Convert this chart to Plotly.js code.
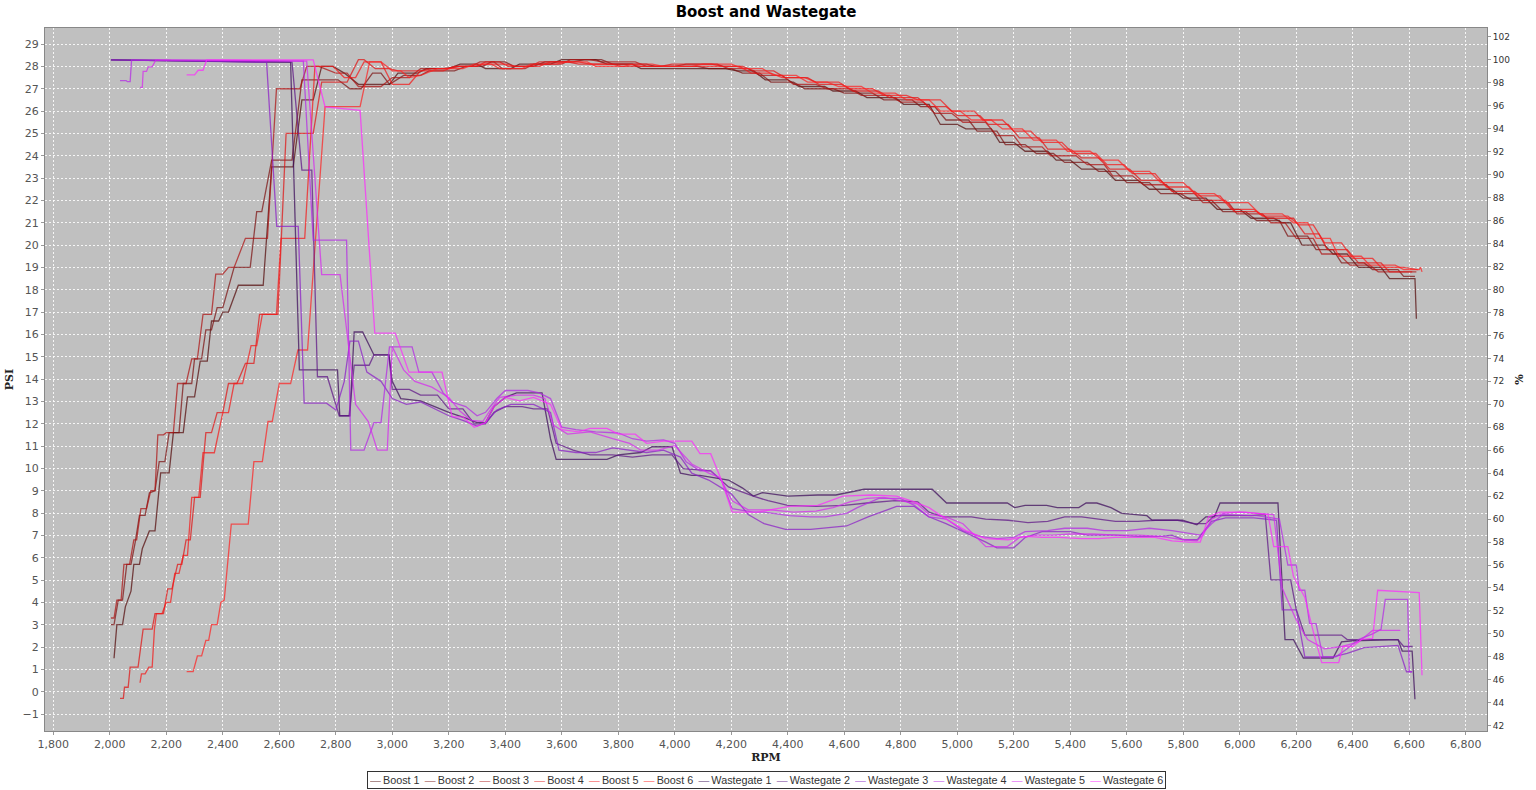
<!DOCTYPE html>
<html>
<head>
<meta charset="utf-8">
<script src="https://cdn.plot.ly/plotly-3.0.1.min.js"></script>
<style>html,body{margin:0;padding:0;background:#fff;}#chart{width:1536px;height:790px;}</style>
</head>
<body>
<div id="chart"></div>
<script>
// Series data: [RPM, value] pairs. Boost in PSI (left axis), Wastegate in % (right axis)
const seriesNames = ["Boost 1","Boost 2","Boost 3","Boost 4","Boost 5","Boost 6",
  "Wastegate 1","Wastegate 2","Wastegate 3","Wastegate 4","Wastegate 5","Wastegate 6"];

const boost1 = [[2015,1.5],[2025,3.0],[2045,3.0],[2055,3.8],[2075,4.5],[2085,5.7],[2105,5.7],[2115,6.4],[2140,7.2],[2160,7.2],[2180,9.8],[2210,9.8],[2225,11.6],[2260,11.6],[2275,13.2],[2300,13.2],[2320,14.8],[2345,14.8],[2360,16.6],[2385,16.6],[2400,17.0],[2420,17.0],[2455,18.2],[2543,18.2],[2573,23.5],[2649,23.5],[2680,26.5],[2720,26.5],[2750,28.0],[2790,28.0],[2830,27.7],[2880,27.2],[2990,27.2],[3020,27.7],[3090,27.7],[3120,27.9],[3200,27.9],[3240,28.1],[3300,28.1],[3330,27.9],[3420,27.9],[3450,28.1],[3560,28.1],[3600,28.3],[3720,28.3],[3760,28.1],[3850,28.1],[3880,27.9],[4180,27.9],[4220,27.8],[4280,27.8],[4320,27.4],[4400,27.4],[4440,27.1],[4530,27.1],[4560,26.9],[4640,26.9],[4680,26.6],[4780,26.6],[4810,26.3],[4900,26.3],[4940,25.4],[5000,25.4],[5030,25.2],[5120,25.2],[5150,24.6],[5200,24.6],[5240,24.2],[5320,24.2],[5350,23.8],[5400,23.8],[5440,23.4],[5520,23.4],[5560,22.9],[5640,22.9],[5680,22.5],[5760,22.5],[5800,22.1],[5880,22.1],[5920,21.6],[6000,21.6],[6040,21.2],[6120,21.2],[6150,21.0],[6180,21.0],[6220,20.0],[6300,20.0],[6330,19.6],[6380,19.6],[6420,19.0],[6500,19.0],[6530,18.5],[6620,18.5],[6625,16.7]];

const boost2 = [[2004,3.0],[2015,3.0],[2030,4.1],[2045,4.1],[2060,5.7],[2075,5.7],[2090,6.7],[2105,7.9],[2125,7.9],[2140,8.9],[2160,9.0],[2175,10.3],[2195,10.3],[2210,11.6],[2245,11.6],[2260,13.8],[2290,13.8],[2300,14.9],[2325,14.9],[2340,16.2],[2360,16.2],[2380,17.2],[2400,17.2],[2440,19.0],[2497,19.0],[2520,21.5],[2538,21.5],[2573,23.8],[2645,23.8],[2680,27.4],[2808,27.4],[2850,27.0],[2890,27.0],[2930,27.7],[2960,27.7],[2990,27.2],[3040,27.6],[3100,27.6],[3130,27.8],[3220,27.8],[3260,28.0],[3320,28.0],[3350,28.2],[3400,28.2],[3430,28.0],[3500,28.0],[3540,28.2],[3640,28.2],[3680,28.3],[3740,28.3],[3780,28.1],[3900,28.1],[3930,28.0],[4080,28.0],[4120,27.9],[4200,27.9],[4240,27.7],[4300,27.7],[4340,27.3],[4420,27.3],[4460,27.0],[4560,27.0],[4600,26.8],[4700,26.8],[4740,26.5],[4840,26.5],[4870,26.2],[4920,26.2],[4960,25.6],[5040,25.6],[5070,25.1],[5140,25.1],[5170,24.5],[5240,24.5],[5280,24.1],[5340,24.1],[5380,23.7],[5460,23.7],[5500,23.3],[5560,23.3],[5600,22.8],[5680,22.8],[5720,22.3],[5790,22.3],[5830,22.0],[5900,22.0],[5940,21.5],[6020,21.5],[6060,21.1],[6140,21.1],[6170,20.4],[6240,20.4],[6270,19.8],[6330,19.8],[6360,19.2],[6440,19.2],[6470,18.9],[6560,18.9],[6580,18.6],[6620,18.6]];

const boost3 = [[2004,3.3],[2015,3.3],[2025,4.1],[2040,4.1],[2050,5.7],[2070,5.7],[2085,6.8],[2095,6.8],[2110,8.2],[2130,8.2],[2145,9.0],[2160,9.0],[2170,11.5],[2190,11.5],[2200,11.6],[2225,11.6],[2240,13.8],[2270,13.8],[2290,14.9],[2310,14.9],[2330,16.9],[2360,16.9],[2375,18.7],[2400,18.7],[2420,19.0],[2440,19.0],[2480,20.3],[2558,20.3],[2590,27.0],[2673,27.0],[2697,28.0],[2740,28.0],[2800,27.7],[2840,27.7],[2880,27.1],[2960,27.1],[3000,27.5],[3060,27.5],[3100,27.9],[3180,27.9],[3230,28.0],[3280,28.0],[3310,28.2],[3360,28.2],[3390,27.9],[3470,27.9],[3500,28.1],[3600,28.1],[3630,28.3],[3700,28.3],[3740,28.2],[3860,28.2],[3900,28.0],[4000,28.0],[4040,28.1],[4150,28.1],[4190,27.9],[4260,27.9],[4300,27.6],[4380,27.6],[4420,27.2],[4500,27.2],[4540,27.0],[4620,27.0],[4660,26.7],[4760,26.7],[4800,26.4],[4880,26.4],[4920,25.9],[4980,25.9],[5020,25.5],[5100,25.5],[5140,24.9],[5200,24.9],[5230,24.4],[5300,24.4],[5330,24.0],[5420,24.0],[5460,23.6],[5520,23.6],[5550,23.1],[5620,23.1],[5660,22.7],[5740,22.7],[5770,22.3],[5840,22.3],[5870,21.9],[5960,21.9],[5990,21.4],[6080,21.4],[6110,21.0],[6160,21.0],[6200,20.3],[6260,20.3],[6290,19.6],[6350,19.6],[6390,19.1],[6460,19.1],[6490,18.8],[6625,18.8]];

const boost4 = [[2036,-0.3],[2048,-0.3],[2052,0.2],[2065,0.2],[2072,1.1],[2100,1.1],[2118,2.8],[2150,2.8],[2160,3.5],[2190,3.5],[2205,4.6],[2220,4.6],[2240,5.7],[2255,5.7],[2270,6.8],[2285,6.8],[2300,8.7],[2320,8.7],[2340,11.6],[2360,11.6],[2380,12.5],[2400,12.5],[2420,13.8],[2450,13.8],[2480,14.7],[2510,14.7],[2530,16.9],[2595,16.9],[2624,25.0],[2720,25.0],[2750,27.3],[2840,27.3],[2880,28.3],[2900,28.3],[2940,27.9],[2990,27.9],[3020,27.8],[3100,27.8],[3140,27.9],[3200,27.9],[3240,28.0],[3300,28.0],[3330,28.2],[3380,28.2],[3410,28.0],[3490,28.0],[3520,28.2],[3620,28.2],[3660,28.1],[3780,28.1],[3810,28.0],[3950,28.0],[3990,28.1],[4130,28.1],[4170,28.0],[4240,28.0],[4280,27.8],[4350,27.8],[4390,27.5],[4470,27.5],[4510,27.2],[4590,27.2],[4630,26.9],[4720,26.9],[4760,26.6],[4860,26.6],[4900,26.2],[4960,26.2],[5000,25.8],[5080,25.8],[5110,25.4],[5180,25.4],[5220,24.8],[5290,24.8],[5320,24.3],[5400,24.3],[5440,23.9],[5500,23.9],[5540,23.4],[5610,23.4],[5650,22.9],[5720,22.9],[5760,22.4],[5840,22.4],[5880,22.0],[5950,22.0],[5980,21.5],[6060,21.5],[6100,21.2],[6190,21.2],[6230,20.5],[6280,20.5],[6310,19.8],[6380,19.8],[6420,19.2],[6500,19.2],[6530,18.8],[6610,18.8]];

const boost5 = [[2107,0.4],[2112,0.8],[2125,0.8],[2138,1.1],[2150,1.1],[2158,2.8],[2165,3.5],[2185,3.5],[2200,4.0],[2215,4.0],[2230,5.3],[2245,5.3],[2260,6.1],[2275,6.1],[2290,8.7],[2315,8.7],[2330,10.7],[2370,10.7],[2400,12.5],[2420,12.5],[2440,13.8],[2470,13.8],[2500,15.5],[2520,15.5],[2540,16.9],[2590,16.9],[2606,20.3],[2690,20.3],[2726,28.0],[2790,28.0],[2830,27.5],[2870,27.5],[2900,28.2],[2960,28.2],[3000,27.2],[3060,27.2],[3100,27.8],[3180,27.8],[3220,28.0],[3290,28.0],[3330,28.1],[3400,28.1],[3440,28.0],[3520,28.0],[3560,28.2],[3660,28.2],[3700,28.1],[3840,28.1],[3880,28.0],[4230,28.0],[4270,27.7],[4340,27.7],[4380,27.5],[4460,27.5],[4500,27.3],[4580,27.3],[4620,27.0],[4700,27.0],[4740,26.7],[4820,26.7],[4860,26.5],[4940,26.5],[4980,26.0],[5060,26.0],[5090,25.6],[5160,25.6],[5200,25.1],[5260,25.1],[5300,24.6],[5370,24.6],[5410,24.1],[5490,24.1],[5530,23.6],[5590,23.6],[5620,23.2],[5700,23.2],[5740,22.6],[5820,22.6],[5850,22.2],[5930,22.2],[5970,21.6],[6050,21.6],[6080,21.3],[6170,21.3],[6210,20.9],[6260,20.9],[6300,20.1],[6360,20.1],[6400,19.4],[6470,19.4],[6500,19.0],[6580,19.0],[6630,18.9]];

const boost6 = [[2272,0.9],[2295,0.9],[2310,1.6],[2325,1.6],[2340,2.3],[2350,2.3],[2360,3.0],[2380,3.0],[2393,4.0],[2405,4.1],[2430,7.5],[2490,7.5],[2510,10.3],[2540,10.3],[2560,12.1],[2575,12.1],[2600,13.8],[2640,13.8],[2666,15.3],[2700,15.3],[2762,26.2],[2886,26.2],[2920,28.2],[2960,28.2],[3000,27.8],[3030,27.8],[3060,27.5],[3100,27.6],[3160,27.9],[3250,27.9],[3290,28.1],[3350,28.1],[3380,27.9],[3460,27.9],[3490,28.1],[3580,28.1],[3620,28.2],[3690,28.2],[3720,28.0],[3820,28.0],[3850,28.1],[3920,28.1],[3960,28.0],[4060,28.0],[4100,28.1],[4200,28.1],[4240,27.9],[4310,27.9],[4350,27.6],[4430,27.6],[4470,27.3],[4540,27.3],[4580,27.1],[4660,27.1],[4700,26.8],[4780,26.8],[4820,26.5],[4900,26.5],[4940,26.0],[5010,26.0],[5050,25.6],[5120,25.6],[5160,25.2],[5230,25.2],[5270,24.7],[5350,24.7],[5390,24.2],[5470,24.2],[5510,23.8],[5570,23.8],[5610,23.3],[5680,23.3],[5720,22.8],[5800,22.8],[5840,22.3],[5910,22.3],[5950,21.9],[6030,21.9],[6070,21.4],[6150,21.4],[6190,21.0],[6240,21.0],[6270,20.3],[6320,20.3],[6350,19.5],[6430,19.5],[6460,19.1],[6550,19.1],[6580,18.9],[6635,18.9],[6640,19.0],[6645,18.8]];

const wastegate1 = [[2004,100.0],[2640,99.8],[2671,73.0],[2806,73.0],[2814,69.0],[2850,69.0],[2865,76.3],[2895,76.3],[2935,74.3],[2988,74.3],[3000,72.0],[3030,70.5],[3100,70.3],[3150,69.8],[3200,69.3],[3260,68.8],[3300,68.4],[3330,68.4],[3360,69.8],[3400,70.6],[3440,71.0],[3530,71.0],[3560,67.0],[3580,65.2],[3760,65.2],[3800,65.6],[3880,65.8],[3920,66.3],[3990,66.3],[4020,64.0],[4060,63.8],[4089,63.8],[4190,63.4],[4240,62.7],[4278,62.0],[4310,62.3],[4400,62.0],[4506,62.1],[4570,62.1],[4670,62.6],[4911,62.6],[4962,61.4],[5177,61.4],[5203,61.0],[5240,61.2],[5316,61.2],[5354,61.0],[5430,61.0],[5456,61.4],[5494,61.4],[5544,61.0],[5582,60.5],[5650,60.3],[5671,60.3],[5690,59.9],[5797,59.9],[5848,59.5],[5880,60.2],[5910,60.2],[5930,61.4],[6135,61.4],[6160,49.5],[6190,49.5],[6225,47.9],[6330,47.9],[6360,49.3],[6400,49.4],[6560,49.5],[6575,48.5],[6610,48.5],[6620,44.3]];

const wastegate2 = [[2004,100.0],[2645,99.8],[2680,90.4],[2715,90.4],[2735,72.4],[2770,72.4],[2812,69.0],[2847,69.0],[2865,73.4],[2918,73.4],[2935,74.3],[2988,74.3],[3000,71.3],[3060,71.3],[3100,70.8],[3160,70.8],[3200,69.6],[3250,69.6],[3290,68.3],[3330,68.3],[3360,69.3],[3400,69.8],[3460,69.8],[3500,69.6],[3550,69.6],[3580,66.6],[3640,66.0],[3700,65.6],[3780,65.6],[3850,65.4],[3920,65.6],[3990,65.6],[4030,64.4],[4127,64.2],[4190,62.8],[4278,62.0],[4330,61.6],[4400,61.2],[4500,61.1],[4600,61.2],[4680,61.4],[4780,61.6],[4860,61.5],[4900,60.6],[4950,60.2],[5050,60.2],[5100,60.0],[5180,59.9],[5250,59.7],[5320,59.8],[5380,60.2],[5440,60.2],[5500,60.0],[5560,59.8],[5640,59.8],[5700,59.9],[5780,59.9],[5840,59.6],[5880,59.6],[5910,60.3],[6040,60.3],[6090,60.4],[6110,54.7],[6180,54.7],[6200,52.1],[6230,49.9],[6360,49.9],[6380,49.5],[6560,49.5],[6580,48.9],[6612,48.9]];

const wastegate3 = [[2004,100.0],[2555,99.8],[2591,85.5],[2667,85.5],[2688,70.1],[2767,70.1],[2800,69.5],[2830,72.0],[2850,75.5],[2880,75.5],[2910,72.8],[2960,72.0],[3000,70.5],[3050,70.0],[3100,70.2],[3150,69.6],[3200,69.0],[3250,68.6],[3300,68.1],[3330,68.4],[3370,69.5],[3420,70.0],[3500,70.0],[3560,69.3],[3590,66.0],[3650,65.8],[3720,65.8],[3780,66.2],[3840,66.0],[3900,65.8],[3960,66.0],[4020,65.4],[4060,64.0],[4120,63.4],[4200,62.2],[4260,60.4],[4316,59.6],[4392,59.1],[4481,59.1],[4560,59.3],[4608,59.4],[4684,60.2],[4785,61.1],[4848,61.1],[4899,60.2],[4960,59.6],[5051,58.6],[5101,58.0],[5140,57.5],[5200,57.5],[5240,58.4],[5300,58.9],[5400,58.9],[5460,58.6],[5560,58.6],[5640,58.5],[5720,58.5],[5760,58.6],[5800,58.2],[5850,58.2],[5900,59.8],[5950,60.1],[6050,60.1],[6130,59.9],[6150,52.1],[6200,52.1],[6230,48.0],[6330,48.0],[6380,48.3],[6440,48.8],[6560,49.0],[6590,46.7],[6610,46.7]];

const wastegate4 = [[2036,98.2],[2058,98.2],[2062,98.1],[2072,98.1],[2077,100.0],[2685,99.9],[2720,84.3],[2838,84.3],[2853,66.0],[2900,66.0],[2935,68.4],[2960,68.4],[2990,75.0],[3070,75.0],[3094,72.8],[3140,72.8],[3180,71.0],[3210,70.2],[3260,69.8],[3300,69.0],[3330,69.3],[3370,70.5],[3400,71.2],[3480,71.2],[3520,71.0],[3560,70.5],[3600,68.0],[3650,67.8],[3720,67.6],[3800,67.5],[3850,67.0],[3900,66.8],[3960,66.9],[4000,66.6],[4040,65.0],[4089,64.2],[4127,64.2],[4165,63.4],[4203,60.9],[4278,60.6],[4316,60.6],[4405,60.3],[4481,60.2],[4532,60.2],[4608,60.5],[4646,61.0],[4722,61.8],[4798,61.8],[4848,61.2],[4899,60.2],[4962,60.0],[5020,59.0],[5080,58.5],[5140,58.3],[5200,58.4],[5240,58.9],[5320,59.0],[5380,59.2],[5460,59.2],[5520,59.0],[5600,59.0],[5680,59.2],[5760,59.0],[5820,58.8],[5860,58.6],[5900,59.6],[5940,60.4],[6060,60.3],[6140,60.0],[6170,56.0],[6200,56.0],[6210,53.8],[6230,53.8],[6247,50.9],[6270,50.9],[6294,48.0],[6340,48.0],[6380,48.7],[6420,49.5],[6470,50.0],[6500,50.4],[6515,53.0],[6594,53.0],[6600,46.7],[6610,46.7]];

const wastegate5 = [[2107,97.6],[2115,97.6],[2118,99.0],[2130,99.0],[2136,99.4],[2150,99.4],[2163,100.0],[2697,99.9],[2750,81.3],[2815,81.3],[2870,70.0],[2915,68.5],[2947,66.0],[2982,66.0],[3000,75.0],[3040,73.0],[3080,72.0],[3140,71.5],[3200,70.6],[3240,69.4],[3280,68.6],[3320,68.5],[3350,69.6],[3380,70.6],[3440,70.8],[3500,70.8],[3540,70.5],[3570,68.2],[3620,67.4],[3700,67.6],[3780,67.0],[3840,66.6],[3880,66.0],[3940,66.0],[4000,66.4],[4030,65.6],[4060,64.8],[4120,64.0],[4160,63.6],[4203,61.6],[4260,60.8],[4340,60.8],[4420,60.6],[4500,60.7],[4560,61.0],[4620,61.5],[4680,61.8],[4740,61.9],[4800,61.6],[4860,61.3],[4900,60.4],[4960,60.2],[5020,59.6],[5060,58.6],[5101,57.6],[5177,57.6],[5220,58.4],[5280,58.6],[5340,58.6],[5400,58.7],[5480,58.7],[5560,58.6],[5640,58.6],[5720,58.5],[5800,58.2],[5848,58.1],[5870,58.6],[5900,60.0],[5940,60.5],[6000,60.6],[6080,60.5],[6120,60.4],[6150,54.0],[6200,51.2],[6240,49.5],[6300,48.7],[6360,48.9],[6420,49.3],[6470,50.3],[6568,50.3]];

const wastegate6 = [[2272,98.7],[2300,98.7],[2313,99.1],[2330,99.1],[2343,100.0],[2720,100.0],[2762,95.9],[2886,95.6],[2938,76.2],[3010,76.2],[3059,72.8],[3176,72.8],[3212,68.9],[3250,68.9],[3290,68.0],[3330,68.4],[3360,69.8],[3400,70.6],[3450,70.3],[3500,70.6],[3560,70.0],[3600,67.8],[3660,67.6],[3700,67.9],[3760,67.9],[3800,67.4],[3860,67.4],[3900,66.6],[3960,66.8],[4060,66.8],[4089,65.7],[4127,65.7],[4165,63.4],[4203,60.6],[4291,60.6],[4405,61.1],[4506,61.2],[4595,62.0],[4696,62.1],[4785,62.0],[4848,61.5],[4900,61.0],[4960,60.0],[5030,59.0],[5100,58.3],[5180,58.2],[5240,58.5],[5300,58.4],[5360,58.4],[5440,58.3],[5500,58.3],[5560,58.4],[5640,58.4],[5700,58.4],[5760,58.1],[5820,58.0],[5860,58.0],[5890,60.2],[5930,60.6],[6020,60.6],[6100,60.4],[6120,57.6],[6170,57.6],[6190,55.0],[6230,53.2],[6260,50.2],[6290,47.5],[6350,47.5],[6365,48.9],[6400,48.9],[6430,49.5],[6470,49.6],[6488,53.8],[6635,53.6],[6645,46.4]];

const allSeries = [boost1,boost2,boost3,boost4,boost5,boost6,
  wastegate1,wastegate2,wastegate3,wastegate4,wastegate5,wastegate6];

const seriesColors = ["rgb(85,12,12)","rgb(125,18,18)","rgb(175,20,20)","rgb(225,20,20)","rgb(245,25,25)","rgb(255,35,35)",
  "rgb(60,10,90)","rgb(95,20,135)","rgb(140,30,200)","rgb(180,40,230)","rgb(215,40,240)","rgb(255,40,255)"];

const traces = allSeries.map((s, i) => ({
  type: 'scatter',
  mode: 'lines',
  name: seriesNames[i],
  x: s.map(p => p[0]),
  y: s.map(p => p[1]),
  yaxis: i < 6 ? 'y' : 'y2',
  opacity: 0.72,
  line: {color: seriesColors[i], width: 1.3},
  showlegend: false,
  hoverinfo: 'x+y+name'
}));

// Compact legend box (as in the original), built from the series names and colours
const legendText = seriesNames.map((n, i) =>
  '<span style="color:' + seriesColors[i] + ';opacity:0.6">\u2014</span>\u2009' + n
).join('&nbsp;\u2009');

const tickFont = {family: 'DejaVu Sans, sans-serif', size: 11, color: '#555555'};

const layout = {
  width: 1536,
  height: 790,
  paper_bgcolor: '#ffffff',
  plot_bgcolor: '#c0c0c0',
  margin: {l: 45, r: 49, t: 28, b: 59, pad: 0, autoexpand: false},
  title: {
    text: '<b>Boost and Wastegate</b>',
    font: {family: 'DejaVu Sans, sans-serif', size: 15, color: '#000000'},
    x: 0.5, xanchor: 'center', xref: 'paper',
    y: 0.985, yanchor: 'middle', yref: 'container'
  },
  xaxis: {
    range: [1770.6, 6875],
    dtick: 200, tick0: 1800,
    tickformat: ',d',
    tickfont: tickFont,
    ticks: 'outside', ticklen: 3, tickcolor: '#999999',
    showgrid: true, gridcolor: 'rgba(255,255,255,0.85)', griddash: '2px,2px', gridwidth: 1,
    zeroline: false,
    showline: true, linecolor: '#888888', linewidth: 1, mirror: true,
    title: {text: '<b>RPM</b>', font: {family: 'DejaVu Serif, serif', size: 11, color: '#222222'}, standoff: 3},
    automargin: false
  },
  yaxis: {
    range: [-1.76, 29.72],
    dtick: 1, tick0: 0,
    tickfont: tickFont,
    ticks: 'outside', ticklen: 3, tickcolor: '#999999',
    showgrid: true, gridcolor: 'rgba(255,255,255,0.85)', griddash: '2px,2px', gridwidth: 1,
    zeroline: false,
    showline: true, linecolor: '#888888', linewidth: 1, mirror: true,
    title: {text: '<b>PSI</b>', font: {family: 'DejaVu Serif, serif', size: 11, color: '#222222'}, standoff: 6},
    automargin: false
  },
  yaxis2: {
    overlaying: 'y',
    side: 'right',
    range: [41.54, 102.78],
    dtick: 2, tick0: 42,
    tickfont: {family: 'DejaVu Sans, sans-serif', size: 9, color: '#333333'},
    ticks: 'outside', ticklen: 3, tickcolor: '#999999',
    showgrid: false,
    zeroline: false,
    showline: false,
    title: {text: '<b>%</b>', font: {family: 'DejaVu Serif, serif', size: 11, color: '#222222'}, standoff: 6},
    automargin: false
  },
  showlegend: false,
  annotations: [{
    text: legendText,
    xref: 'paper', yref: 'paper',
    x: 0.5, xanchor: 'center',
    y: -0.0697, yanchor: 'middle',
    showarrow: false,
    font: {family: 'Liberation Sans, Arial, sans-serif', size: 10.8, color: '#333333'},
    bgcolor: '#ffffff',
    bordercolor: '#333333',
    borderwidth: 1,
    borderpad: 2
  }],
  hovermode: 'closest'
};

Plotly.newPlot('chart', traces, layout, {displayModeBar: false});
</script>
</body>
</html>
